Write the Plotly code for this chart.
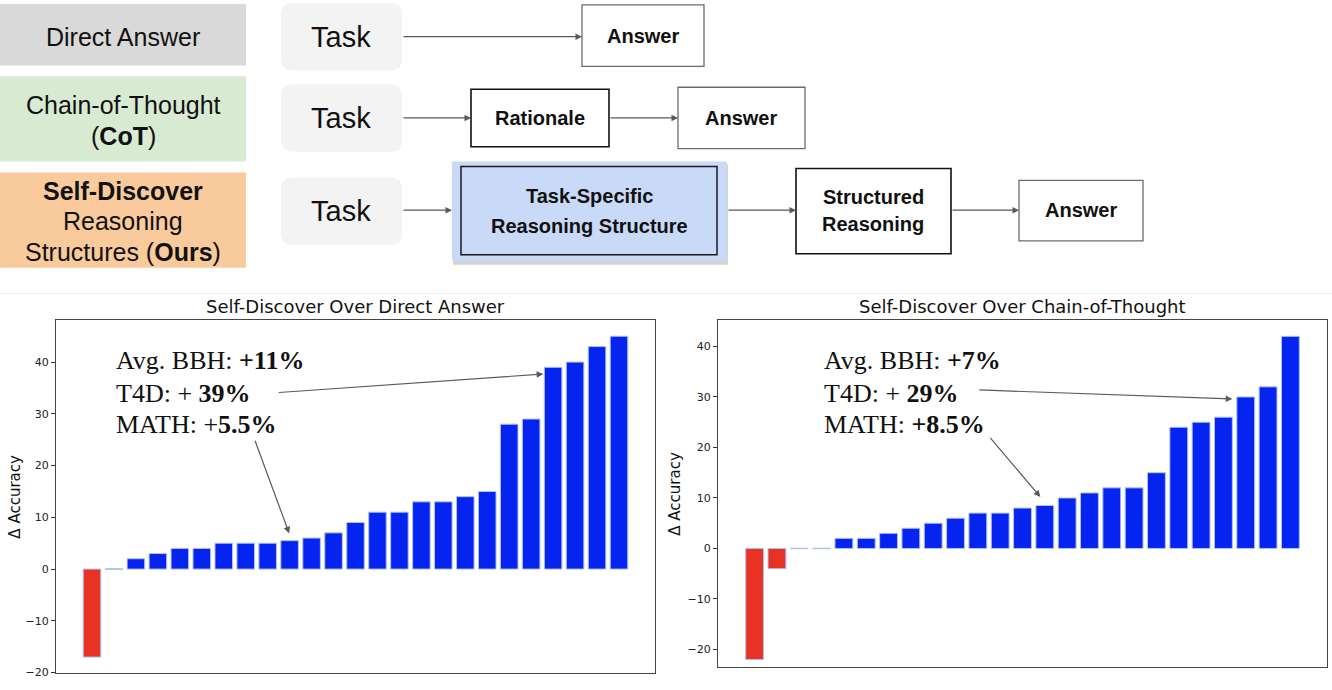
import plotly.graph_objects as go

# ---- data ----
bar_index = list(range(25))
over_direct = [-17, 0, 2, 3, 4, 4, 5, 5, 5, 5.5, 6, 7, 9, 11, 11, 13, 13, 14, 15,
               28, 29, 39, 40, 43, 45]
over_cot = [-22, -4, 0, 0, 2, 2, 3, 4, 5, 6, 7, 7, 8, 8.5, 10, 11, 12, 12, 15,
            24, 25, 26, 30, 32, 42]
chart_titles = ["Self-Discover Over Direct Answer", "Self-Discover Over Chain-of-Thought"]
y_ticks = [-20, -10, 0, 10, 20, 30, 40]
notes_direct = ["Avg. BBH: <b>+11%</b>", "T4D: + <b>39%</b>", "MATH: +<b>5.5%</b>"]
notes_cot = ["Avg. BBH: <b>+7%</b>", "T4D: + <b>29%</b>", "MATH: <b>+8.5%</b>"]

W, H = 1332, 690
SANS = "Liberation Sans"
MPL = "DejaVu Sans"
SERIF = "Liberation Serif"
BLUE = "#0524ef"
RED = "#e83223"


def px(x):
    return x / W


def py(y):
    return 1 - y / H


shapes = []
annotations = []


def rect(x0, y0, x1, y1, fill="white", line=None, lw=1.0):
    shapes.append(dict(type="rect", xref="paper", yref="paper",
                       x0=px(x0), x1=px(x1), y0=py(y1), y1=py(y0),
                       fillcolor=fill,
                       line=dict(color=line or fill, width=lw if line else 0),
                       layer="below"))


def round_rect(x0, y0, x1, y1, r, fill):
    pts = [("M", x0 + r, y0), ("L", x1 - r, y0), ("Q", x1, y0, x1, y0 + r),
           ("L", x1, y1 - r), ("Q", x1, y1, x1 - r, y1), ("L", x0 + r, y1),
           ("Q", x0, y1, x0, y1 - r), ("L", x0, y0 + r), ("Q", x0, y0, x0 + r, y0)]
    d = ""
    for p in pts:
        coords = p[1:]
        s = " ".join(f"{px(coords[i]):.5f},{py(coords[i + 1]):.5f}" for i in range(0, len(coords), 2))
        d += f"{p[0]} {s} "
    shapes.append(dict(type="path", xref="paper", yref="paper", path=d + "Z",
                       fillcolor=fill, line=dict(width=0), layer="below"))


def label(x, y, text, size, family=SANS, color="#111", anchor="center"):
    annotations.append(dict(xref="paper", yref="paper", x=px(x), y=py(y), text=text,
                            showarrow=False, xanchor=anchor, yanchor="middle",
                            font=dict(family=family, size=size, color=color)))


def flow_arrow(x_tail, x_head, y):
    annotations.append(dict(xref="paper", yref="paper", x=px(x_head), y=py(y), text="",
                            showarrow=True, ax=x_tail - x_head, ay=0,
                            arrowhead=2, arrowsize=1, arrowwidth=1.3, arrowcolor="#5a5a5a"))


# ---- top diagram ----
rect(0, 4, 246, 66, "#d9d9d9")
label(123, 37, "Direct Answer", 25)
rect(0, 77, 246, 163, "#d9ead3")
label(123, 106, "Chain-of-Thought", 25)
label(123, 137, "(<b>CoT</b>)", 25)
rect(0, 174, 246, 270, "#f9cb9c")
label(123, 193, "<b>Self-Discover</b>", 25)
label(123, 223, "Reasoning", 25)
label(123, 254, "Structures (<b>Ours</b>)", 25)

for yc in (37, 119, 213):
    round_rect(281, yc - 34, 402, yc + 34, 12, "#f3f3f3")
    label(341, yc, "Task", 29)

# row 1
rect(582, 5, 704, 67, "white", "#6b6b6b", 1.3)
label(643, 36, "<b>Answer</b>", 20)
flow_arrow(402, 582, 37)

# row 2
rect(471, 90, 609, 148, "white", "#111", 1.6)
label(540, 119, "<b>Rationale</b>", 20)
rect(678, 88, 805, 150, "white", "#6b6b6b", 1.3)
label(741, 119, "<b>Answer</b>", 20)
flow_arrow(402, 471, 119)
flow_arrow(609, 678, 119)

# row 3
rect(453, 166, 728, 267, "rgba(80,80,80,0.25)")
rect(452, 163, 727, 263, "#c9daf8")
rect(461, 168, 717, 257, "#c9daf8", "#1a1a1a", 1.5)
label(589, 198, "<b>Task-Specific</b>", 20)
label(589, 228, "<b>Reasoning Structure</b>", 20)
rect(796, 170, 951, 256, "white", "#111", 1.6)
label(873, 199, "<b>Structured</b>", 20)
label(873, 226, "<b>Reasoning</b>", 20)
rect(1019, 182, 1143, 243, "white", "#6b6b6b", 1.3)
label(1081, 212, "<b>Answer</b>", 20)
flow_arrow(402, 452, 212)
flow_arrow(727, 796, 212)
flow_arrow(951, 1019, 212)

# faint separator between diagram and charts
shapes.append(dict(type="line", xref="paper", yref="paper", x0=0, x1=1,
                   y0=py(296), y1=py(296), line=dict(color="#ececec", width=1)))

# ---- bar charts ----
fig = go.Figure()

panels = [
    dict(vals=over_direct, xd=(56, 655), yd=(323, 679), yr=[-20.1, 48.1], ax="", notes=notes_direct,
         note_x=114, ytitle_x=15,
         arrows=[((8.44, 34.1), (20.55, 37.7)), ((7.4, 25.1), (8.98, 6.9))]),
    dict(vals=over_cot, xd=(718, 1327), yd=(323, 673), yr=[-23.5, 45.2], ax="2", notes=notes_cot,
         note_x=822, ytitle_x=675,
         arrows=[((10.0, 31.4), (21.4, 29.6)), ((10.5, 22.2), (12.8, 10.2))]),
]

for k, p in enumerate(panels):
    vals = p["vals"]
    colors = [RED if v < 0 else BLUE for v in vals]
    fig.add_trace(go.Bar(x=bar_index, y=vals, marker=dict(color=colors, line=dict(color="#aec3f2", width=1)),
                         width=0.8, xaxis="x" + p["ax"], yaxis="y" + p["ax"], showlegend=False))
    # zero-height bars are drawn by matplotlib as a thin line
    zx, zy = [], []
    for i, v in zip(bar_index, vals):
        if v == 0:
            zx += [i - 0.4, i + 0.4, None]
            zy += [v, v, None]
    fig.add_trace(go.Scatter(x=zx, y=zy, mode="lines", line=dict(color="#b4c2dc", width=1.5),
                             xaxis="x" + p["ax"], yaxis="y" + p["ax"], showlegend=False, hoverinfo="skip"))

    axis_common = dict(showline=True, mirror=True, linecolor="#444", linewidth=1, showgrid=False, zeroline=False)
    fig.layout["xaxis" + p["ax"]] = dict(domain=[px(p["xd"][0]), px(p["xd"][1])], range=[-1.64, 25.64],
                                         showticklabels=False, ticks="",
                                         anchor="y" + p["ax"], **axis_common)
    fig.layout["yaxis" + p["ax"]] = dict(domain=[py(p["yd"][1]), py(p["yd"][0])], range=p["yr"],
                                         tickvals=y_ticks, ticks="outside", ticklen=4, tickwidth=0.8,
                                         tickcolor="#333", tickfont=dict(family=MPL, size=11, color="#222"),
                                         anchor="x" + p["ax"], **axis_common)

    xc = (p["xd"][0] + p["xd"][1]) / 2
    label(xc, 309, chart_titles[k], 18, family=MPL, color="#111")
    annotations.append(dict(xref="paper", yref="paper", x=px(p["ytitle_x"]), y=py((p["yd"][0] + p["yd"][1]) / 2),
                            text="Δ Accuracy", textangle=-90, showarrow=False,
                            xanchor="center", yanchor="middle",
                            font=dict(family=MPL, size=15, color="#111")))
    for line_y, note in zip((364, 397, 428), p["notes"]):
        label(p["note_x"], line_y, note, 26, family=SERIF, color="#111", anchor="left")
    for (tx, ty), (hx, hy) in p["arrows"]:
        annotations.append(dict(xref="x" + p["ax"], yref="y" + p["ax"], x=hx, y=hy,
                                axref="x" + p["ax"], ayref="y" + p["ax"], ax=tx, ay=ty, text="",
                                showarrow=True, arrowhead=2, arrowsize=1.1, arrowwidth=1.2,
                                arrowcolor="#5a5a5a"))

fig.update_layout(width=W, height=H, margin=dict(l=0, r=0, t=0, b=0),
                  paper_bgcolor="white", plot_bgcolor="white",
                  shapes=shapes, annotations=annotations, bargap=0.2)

# drop the browser's default 8px body margin so the figure fills the window exactly
fig.write_html("out.html", config={"displayModeBar": False},
               post_script="document.body.style.margin='0';")
